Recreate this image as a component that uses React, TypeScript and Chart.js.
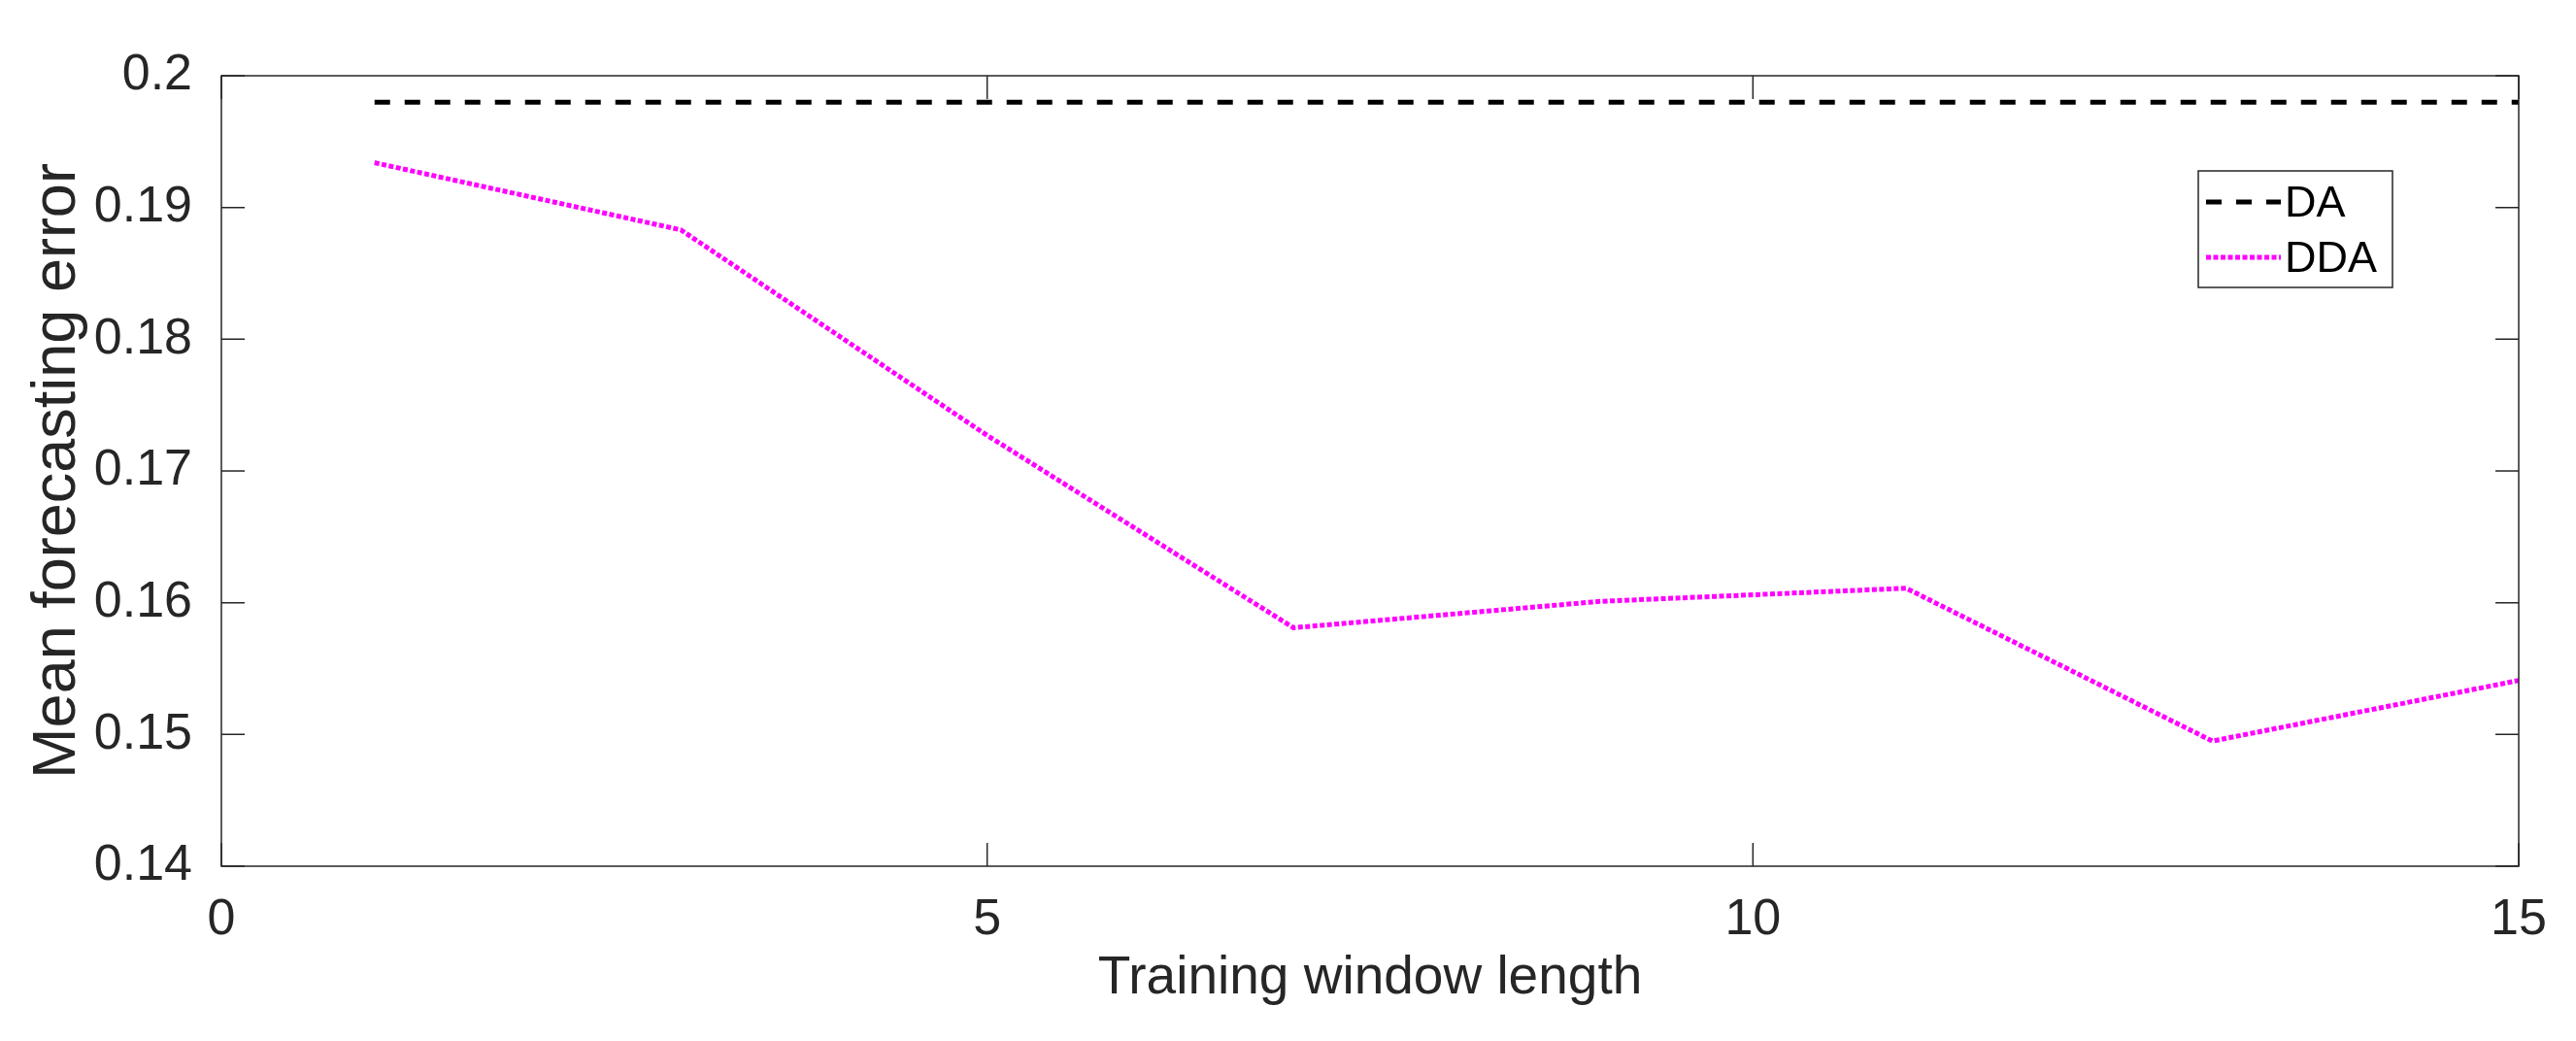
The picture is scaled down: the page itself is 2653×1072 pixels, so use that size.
import React, { useEffect, useRef } from "react";
import { Chart, registerables } from "chart.js";

Chart.register(...registerables);

// ---- data ----
const windowLengths = [1, 3, 5, 7, 9, 11, 13, 15];
const daValues = [0.198, 0.198, 0.198, 0.198, 0.198, 0.198, 0.198, 0.198];
const ddaValues = [0.1934, 0.1883, 0.1727, 0.1581, 0.1601, 0.1611, 0.1495, 0.1541];
const seriesLabels = ["DA", "DDA"];
const xTickValues = [0, 5, 10, 15];
const xTickLabels = ["0", "5", "10", "15"];
const yTickValues = [0.14, 0.15, 0.16, 0.17, 0.18, 0.19, 0.2];
const yTickLabels = ["0.14", "0.15", "0.16", "0.17", "0.18", "0.19", "0.2"];
const xTitle = "Training window length";
const yTitle = "Mean forecasting error";

const FONT = "'Liberation Sans', Arial, Helvetica, sans-serif";
const AXIS_COLOR = "#262626";

const frameAndTicks = {
  id: "frameAndTicks",
  afterDraw(chart: any) {
    const { ctx, chartArea: a, scales } = chart;
    const xs = scales.x;
    const ys = scales.y;
    const L = 24;
    ctx.save();
    ctx.strokeStyle = AXIS_COLOR;
    ctx.lineWidth = 1.5;
    ctx.setLineDash([]);
    ctx.strokeRect(a.left, a.top, a.right - a.left, a.bottom - a.top);
    ctx.beginPath();
    xs.ticks.forEach((t: any) => {
      const px = xs.getPixelForValue(t.value);
      ctx.moveTo(px, a.bottom);
      ctx.lineTo(px, a.bottom - L);
      ctx.moveTo(px, a.top);
      ctx.lineTo(px, a.top + L);
    });
    ys.ticks.forEach((t: any) => {
      const py = ys.getPixelForValue(t.value);
      ctx.moveTo(a.left, py);
      ctx.lineTo(a.left + L, py);
      ctx.moveTo(a.right, py);
      ctx.lineTo(a.right - L, py);
    });
    ctx.stroke();
    ctx.restore();
  },
};

const boxLegend = {
  id: "boxLegend",
  afterDraw(chart: any) {
    const { ctx, chartArea: a } = chart;
    const left = a.right - 330;
    const top = a.top + 98;
    const w = 200;
    const h = 120;
    ctx.save();
    ctx.fillStyle = "#ffffff";
    ctx.fillRect(left, top, w, h);
    ctx.strokeStyle = AXIS_COLOR;
    ctx.lineWidth = 1.5;
    ctx.setLineDash([]);
    ctx.strokeRect(left, top, w, h);
    const lineYs = [32, 89];
    const baseYs = [47, 104];
    chart.data.datasets.forEach((ds: any, i: number) => {
      ctx.beginPath();
      ctx.strokeStyle = ds.borderColor;
      ctx.lineWidth = ds.borderWidth;
      ctx.lineCap = "butt";
      ctx.setLineDash(ds.borderDash || []);
      ctx.moveTo(left + 8, top + lineYs[i]);
      ctx.lineTo(left + 85, top + lineYs[i]);
      ctx.stroke();
      ctx.setLineDash([]);
      ctx.fillStyle = "#000000";
      ctx.font = `45px ${FONT}`;
      ctx.textAlign = "left";
      ctx.textBaseline = "alphabetic";
      ctx.fillText(ds.label, left + 89, top + baseYs[i]);
    });
    ctx.restore();
  },
};

export default function App() {
  const ref = useRef<HTMLCanvasElement>(null);

  useEffect(() => {
    document.body.style.margin = "0";
    const chart = new Chart(ref.current as HTMLCanvasElement, {
      type: "line",
      data: {
        datasets: [
          {
            label: seriesLabels[0],
            data: windowLengths.map((x, i) => ({ x, y: daValues[i] })),
            borderColor: "#000000",
            borderWidth: 5,
            borderDash: [16, 15],
            pointRadius: 0,
            fill: false,
            tension: 0,
          },
          {
            label: seriesLabels[1],
            data: windowLengths.map((x, i) => ({ x, y: ddaValues[i] })),
            borderColor: "#ff00ff",
            borderWidth: 5,
            borderDash: [5, 2.5],
            pointRadius: 0,
            fill: false,
            tension: 0,
          },
        ],
      },
      options: {
        animation: false,
        responsive: false,
        devicePixelRatio: 1,
        layout: { padding: { top: 78, right: 59, left: 0, bottom: 0 } },
        plugins: {
          legend: { display: false },
          tooltip: { enabled: false },
        },
        scales: {
          x: {
            type: "linear",
            min: 0,
            max: 15,
            afterBuildTicks: (s: any) => {
              s.ticks = xTickValues.map((v) => ({ value: v }));
            },
            afterFit: (s: any) => {
              s.height = 180;
            },
            grid: { display: false, drawTicks: false },
            border: { display: false },
            ticks: {
              autoSkip: false,
              maxRotation: 0,
              padding: 24,
              color: AXIS_COLOR,
              font: { family: FONT, size: 52 },
              callback: (_v: any, i: number) => xTickLabels[i],
            },
            title: {
              display: true,
              text: xTitle,
              color: AXIS_COLOR,
              font: { family: FONT, size: 55, lineHeight: 1.2 },
              padding: { top: 0, bottom: 31 },
            },
          },
          y: {
            type: "linear",
            min: 0.14,
            max: 0.2,
            afterBuildTicks: (s: any) => {
              s.ticks = yTickValues.map((v) => ({ value: v }));
            },
            afterFit: (s: any) => {
              s.width = 228;
            },
            grid: { display: false, drawTicks: false },
            border: { display: false },
            ticks: {
              autoSkip: false,
              padding: 30,
              color: AXIS_COLOR,
              font: { family: FONT, size: 52 },
              callback: (_v: any, i: number) => yTickLabels[i],
            },
            title: {
              display: true,
              text: yTitle,
              color: AXIS_COLOR,
              font: { family: FONT, size: 63, lineHeight: 1.2 },
              padding: { top: 22, bottom: 0 },
            },
          },
        },
      },
      plugins: [frameAndTicks, boxLegend],
    } as any);
    return () => chart.destroy();
  }, []);

  return (
    <div style={{ width: 2653, height: 1072, background: "#ffffff", overflow: "hidden" }}>
      <canvas
        ref={ref}
        width={2653}
        height={1072}
        style={{ display: "block", width: 2653, height: 1072 }}
      />
    </div>
  );
}
